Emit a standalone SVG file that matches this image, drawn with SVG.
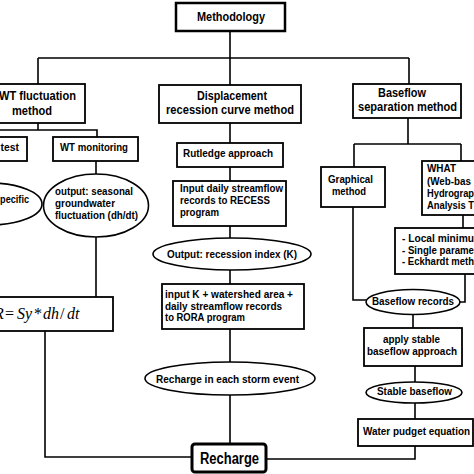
<svg xmlns="http://www.w3.org/2000/svg" width="474" height="474" viewBox="0 0 474 474">
<style>
.b{fill:#fff;stroke:#000;stroke-width:1.8}
.e{fill:#fff;stroke:#000;stroke-width:1.6}
.c{fill:none;stroke:#000;stroke-width:1.6}
text{font-family:"Liberation Sans",Arial,sans-serif;font-weight:bold;fill:#000}
.t{font-size:11px}
.h{font-size:12.5px}
.f{font-family:"Liberation Serif","Times New Roman",serif;font-weight:normal;font-size:16px}
</style>
<rect width="474" height="474" fill="#fff"/>
<g id="connectors">
<path class="c" d="M230,31V58M38,58H409M38,58V84M230,58V85M409,58V84"/>
<path class="c" d="M38,123V130M0,130H97V137"/>
<path class="c" d="M96,161V174M96,237V297M45,331V457H192"/>
<path class="c" d="M230,123V143M230,167V181M230,226V238M230,270V284M230,329V362M230,395V444"/>
<path class="c" d="M408,118V144M354,144H461M354,144V167M461,144V161"/>
<path class="c" d="M353,207V300H367M463,215V228M465,274V302H460"/>
<path class="c" d="M413,314V328M415,366V382M415,403V419M415,446V459H266"/>
</g>
<g id="methodology">
<rect x="176" y="3" width="109" height="28" fill="#fff" stroke="#000" stroke-width="2.5"/>
<text class="h" x="197" y="21" textLength="68" lengthAdjust="spacingAndGlyphs">Methodology</text>
</g>
<g id="wt-fluctuation">
<rect class="b" x="-30" y="84" width="115" height="39"/>
<text class="h" x="-1" y="100" textLength="77" lengthAdjust="spacingAndGlyphs">WT fluctuation</text>
<text class="h" x="12" y="115" textLength="40" lengthAdjust="spacingAndGlyphs">method</text>
</g>
<g id="displacement">
<rect class="b" x="159" y="85" width="142" height="38"/>
<text class="h" x="197" y="100" textLength="70" lengthAdjust="spacingAndGlyphs">Displacement</text>
<text class="h" x="166" y="114" textLength="128" lengthAdjust="spacingAndGlyphs">recession curve method</text>
</g>
<g id="baseflow-separation">
<rect class="b" x="353" y="84" width="108" height="34"/>
<text class="h" x="378" y="97" textLength="48" lengthAdjust="spacingAndGlyphs">Baseflow</text>
<text class="h" x="358" y="111" textLength="99" lengthAdjust="spacingAndGlyphs">separation method</text>
</g>
<g id="test">
<rect class="b" x="-30" y="137" width="57" height="24"/>
<text class="t" x="0.5" y="151" textLength="18.5" lengthAdjust="spacingAndGlyphs">test</text>
</g>
<g id="wt-monitoring">
<rect class="b" x="53" y="137" width="85" height="24"/>
<text class="t" x="60" y="151" textLength="68" lengthAdjust="spacingAndGlyphs">WT monitoring</text>
</g>
<g id="specific">
<ellipse class="e" cx="-10" cy="204" rx="52" ry="21"/>
<text class="t" x="-5" y="203" textLength="34" lengthAdjust="spacingAndGlyphs">specific</text>
</g>
<g id="output-seasonal">
<ellipse class="e" cx="96" cy="205.5" rx="52.5" ry="31.5"/>
<text class="t" x="55" y="195" textLength="78" lengthAdjust="spacingAndGlyphs">output: seasonal</text>
<text class="t" x="55" y="207" textLength="60" lengthAdjust="spacingAndGlyphs">groundwater</text>
<text class="t" x="55" y="219" textLength="83" lengthAdjust="spacingAndGlyphs">fluctuation (dh/dt)</text>
</g>
<g id="formula">
<rect class="b" x="-30" y="297" width="143" height="34"/>
<text class="f" y="319"><tspan x="-6" font-style="italic">R</tspan><tspan x="5">=</tspan><tspan x="17" font-style="italic">Sy</tspan><tspan x="34">*</tspan><tspan x="43" font-style="italic">dh</tspan><tspan x="60">/</tspan><tspan x="67" font-style="italic">dt</tspan></text>
</g>
<g id="rutledge">
<rect class="b" x="177" y="143" width="106" height="24"/>
<text class="t" x="183" y="157" textLength="90" lengthAdjust="spacingAndGlyphs">Rutledge approach</text>
</g>
<g id="input-recess">
<rect class="b" x="173" y="181" width="113" height="45"/>
<text class="t" x="180" y="192" textLength="103" lengthAdjust="spacingAndGlyphs">Input daily streamflow</text>
<text class="t" x="180" y="204" textLength="90" lengthAdjust="spacingAndGlyphs">records to RECESS</text>
<text class="t" x="180" y="216" textLength="39" lengthAdjust="spacingAndGlyphs">program</text>
</g>
<g id="recession-index">
<ellipse class="e" cx="232" cy="254" rx="79" ry="16"/>
<text class="t" x="167" y="258" textLength="130" lengthAdjust="spacingAndGlyphs">Output: recession index (K)</text>
</g>
<g id="input-rora">
<rect class="b" x="162" y="284" width="142" height="45"/>
<text class="t" x="165" y="298" textLength="128" lengthAdjust="spacingAndGlyphs">input K + watershed area +</text>
<text class="t" x="165" y="310" textLength="117" lengthAdjust="spacingAndGlyphs">daily streamflow records</text>
<text class="t" x="165" y="321" textLength="80" lengthAdjust="spacingAndGlyphs">to RORA program</text>
</g>
<g id="storm-recharge">
<ellipse class="e" cx="230" cy="378.5" rx="85" ry="16.5"/>
<text class="t" x="156" y="383" textLength="143" lengthAdjust="spacingAndGlyphs">Recharge in each storm event</text>
</g>
<g id="recharge">
<rect x="192" y="444" width="74" height="28" rx="3" fill="#fff" stroke="#000" stroke-width="3"/>
<text x="200" y="464" font-size="16" textLength="59" lengthAdjust="spacingAndGlyphs">Recharge</text>
</g>
<g id="graphical">
<rect class="b" x="321" y="167" width="64" height="40"/>
<text class="t" x="328" y="183" textLength="45" lengthAdjust="spacingAndGlyphs">Graphical</text>
<text class="t" x="332" y="195" textLength="34" lengthAdjust="spacingAndGlyphs">method</text>
</g>
<g id="what">
<rect class="b" x="422" y="161" width="60" height="54"/>
<text class="t" x="427" y="172" textLength="29" lengthAdjust="spacingAndGlyphs">WHAT</text>
<text class="t" x="427" y="185" textLength="44" lengthAdjust="spacingAndGlyphs">(Web-bas</text>
<text class="t" x="427" y="197" textLength="47" lengthAdjust="spacingAndGlyphs">Hydrograp</text>
<text class="t" x="427" y="209" textLength="47" lengthAdjust="spacingAndGlyphs">Analysis T</text>
</g>
<g id="methods-list">
<rect class="b" x="395" y="228" width="85" height="46"/>
<text class="t" x="402" y="242" textLength="72" lengthAdjust="spacingAndGlyphs">- Local minimu</text>
<text class="t" x="402" y="253.5" textLength="72" lengthAdjust="spacingAndGlyphs">- Single parame</text>
<text class="t" x="402" y="265" textLength="72" lengthAdjust="spacingAndGlyphs">- Eckhardt meth</text>
</g>
<g id="baseflow-records">
<ellipse class="e" cx="413" cy="302" rx="47" ry="12.5"/>
<text class="t" x="372" y="305" textLength="82" lengthAdjust="spacingAndGlyphs">Baseflow records</text>
</g>
<g id="apply-stable">
<rect class="b" x="364" y="328" width="98" height="38"/>
<text class="t" x="383" y="343" textLength="57" lengthAdjust="spacingAndGlyphs">apply stable</text>
<text class="t" x="367" y="355" textLength="90" lengthAdjust="spacingAndGlyphs">baseflow approach</text>
</g>
<g id="stable-baseflow">
<ellipse class="e" cx="414" cy="392.5" rx="48" ry="10.5"/>
<text class="t" x="377" y="395" textLength="75" lengthAdjust="spacingAndGlyphs">Stable baseflow</text>
</g>
<g id="water-budget">
<rect class="b" x="358" y="419" width="115" height="27"/>
<text class="t" x="363" y="435" textLength="107" lengthAdjust="spacingAndGlyphs">Water pudget equation</text>
</g>
</svg>
